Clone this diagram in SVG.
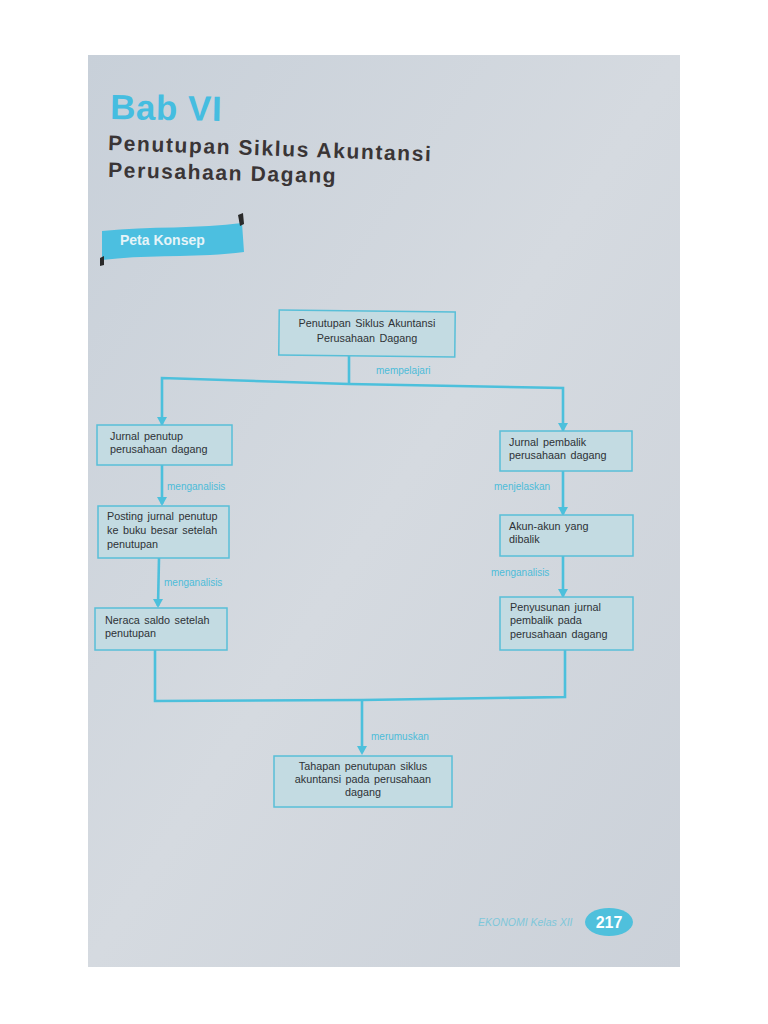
<svg xmlns="http://www.w3.org/2000/svg" width="768" height="1024" viewBox="0 0 768 1024">
<defs>
<linearGradient id="page" x1="0" y1="0" x2="1" y2="1">
<stop offset="0" stop-color="#c8d0d9"/>
<stop offset="0.5" stop-color="#d5dae0"/>
<stop offset="1" stop-color="#cbd1d9"/>
</linearGradient>
</defs>
<style>
.box{fill:#c3dbe2;stroke:#58bfd8;stroke-width:1.5}
.t{font-family:"Liberation Sans",Arial,sans-serif;font-size:10.8px;fill:#2e3236;word-spacing:1.5px}
.lbl{font-family:"Liberation Sans",Arial,sans-serif;font-size:10px;fill:#4dbcd9}
.ln{fill:none;stroke:#4cc0dc;stroke-width:2.6}
.ah{fill:#4cc0dc}
.ttl{font-family:"Liberation Sans",Arial,sans-serif;font-size:21px;font-weight:bold;fill:#3a3536;letter-spacing:1.6px}
</style>
<rect width="768" height="1024" fill="#ffffff"/>
<rect x="88" y="55" width="592" height="912" fill="url(#page)"/>

<g id="title">
<text x="110" y="119" font-family="Liberation Sans,Arial,sans-serif" font-size="35" font-weight="bold" fill="#45bde0" letter-spacing="0.5" transform="rotate(1 110 119)">Bab VI</text>
<text class="ttl" x="108" y="150" transform="rotate(2 108 150)">Penutupan Siklus Akuntansi</text>
<text class="ttl" x="108" y="177" transform="rotate(1.5 108 177)">Perusahaan Dagang</text>
</g>

<g id="peta-konsep">
<path d="M102,231 C150,226 200,229 242,223 L244,252 C200,258 150,254 102,260 Z" fill="#4cbfe0"/>
<path d="M238,215 L243,213 L244,224 L240,226 Z" fill="#2a2a2a"/>
<path d="M100,258 L104,256 L104,265 L100,266 Z" fill="#2a2a2a"/>
<text x="120" y="245" font-family="Liberation Sans,Arial,sans-serif" font-size="14" font-weight="bold" fill="#e6f4f8">Peta Konsep</text>
</g>

<g id="connectors">
<path class="ln" d="M349,356 L349,384"/>
<path class="ln" d="M162,425 L162,378 L349,384 L563,388 L563,431"/>
<path class="ah" d="M157,417 L167,417 L162,426 Z"/>
<path class="ah" d="M558,423 L568,423 L563,432 Z"/>
<text class="lbl" x="376" y="374">mempelajari</text>

<path class="ln" d="M162,464 L162,504"/>
<path class="ah" d="M157,497 L167,497 L162,506 Z"/>
<text class="lbl" x="167" y="490">menganalisis</text>

<path class="ln" d="M159,558 L158,606"/>
<path class="ah" d="M153,599 L163,599 L158,608 Z"/>
<text class="lbl" x="164" y="586">menganalisis</text>

<path class="ln" d="M563,471 L563,514"/>
<path class="ah" d="M558,507 L568,507 L563,516 Z"/>
<text class="lbl" x="494" y="490">menjelaskan</text>

<path class="ln" d="M563,556 L563,596"/>
<path class="ah" d="M558,589 L568,589 L563,598 Z"/>
<text class="lbl" x="491" y="576">menganalisis</text>

<path class="ln" d="M155,650 L155,701 L362,700 L565,697 L565,650"/>
<path class="ln" d="M362,700 L362,752"/>
<path class="ah" d="M357,746 L367,746 L362,755 Z"/>
<text class="lbl" x="371" y="740">merumuskan</text>
</g>

<g id="n-top">
<rect class="box" x="279" y="311" width="176" height="45" transform="rotate(0.6 367 333)"/>
<text class="t" x="367" y="327" text-anchor="middle">Penutupan Siklus Akuntansi</text>
<text class="t" x="367" y="342" text-anchor="middle">Perusahaan Dagang</text>
</g>

<g id="n-jurnal-penutup">
<rect class="box" x="97" y="425" width="135" height="40"/>
<text class="t" x="110" y="440">Jurnal penutup</text>
<text class="t" x="110" y="453">perusahaan dagang</text>
</g>

<g id="n-posting">
<rect class="box" x="98" y="506" width="131" height="52"/>
<text class="t" x="107" y="520">Posting jurnal penutup</text>
<text class="t" x="107" y="534">ke buku besar setelah</text>
<text class="t" x="107" y="548">penutupan</text>
</g>

<g id="n-neraca">
<rect class="box" x="95" y="608" width="132" height="42"/>
<text class="t" x="105" y="624">Neraca saldo setelah</text>
<text class="t" x="105" y="637">penutupan</text>
</g>

<g id="n-jurnal-pembalik">
<rect class="box" x="500" y="431" width="132" height="40"/>
<text class="t" x="509" y="446">Jurnal pembalik</text>
<text class="t" x="509" y="459">perusahaan dagang</text>
</g>

<g id="n-akun">
<rect class="box" x="500" y="515" width="133" height="41"/>
<text class="t" x="509" y="530">Akun-akun yang</text>
<text class="t" x="509" y="543">dibalik</text>
</g>

<g id="n-penyusunan">
<rect class="box" x="500" y="597" width="133" height="53"/>
<text class="t" x="510" y="611">Penyusunan jurnal</text>
<text class="t" x="510" y="624">pembalik pada</text>
<text class="t" x="510" y="638">perusahaan dagang</text>
</g>

<g id="n-tahapan">
<rect class="box" x="274" y="756" width="178" height="51"/>
<text class="t" x="363" y="770" text-anchor="middle">Tahapan penutupan siklus</text>
<text class="t" x="363" y="783" text-anchor="middle">akuntansi pada perusahaan</text>
<text class="t" x="363" y="796" text-anchor="middle">dagang</text>
</g>

<g id="footer">
<text x="478" y="926" font-family="Liberation Sans,Arial,sans-serif" font-size="10.5" font-style="italic" fill="#7ec7da">EKONOMI Kelas XII</text>
<ellipse cx="609" cy="922" rx="24" ry="14" fill="#4fc0dc"/>
<text x="609" y="928" text-anchor="middle" font-family="Liberation Sans,Arial,sans-serif" font-size="16" font-weight="bold" fill="#ffffff">217</text>
</g>
</svg>
